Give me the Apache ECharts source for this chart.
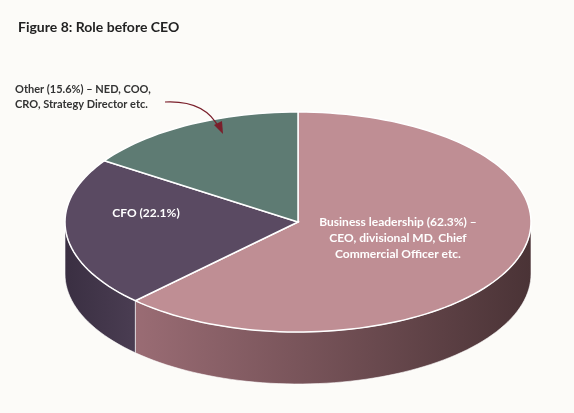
<!DOCTYPE html><html><head><meta charset="utf-8">
<script src="https://cdn.jsdelivr.net/npm/echarts@6/dist/echarts.min.js"></script>
<style>html,body{margin:0;background:#fcfbf8}#c{width:574px;height:413px}</style></head><body><div id="c"></div>
<script>
var categories=['Business leadership','CFO','Other'];
var values=[62.3,22.1,15.6];
var topColors=['#bf8e94','#5a4a62','#5e7b73'];
var sideColors=[['#9a6c74','#4a3336'],['#4a3d52','#3a2f42'],['#4a625c','#3a4e48']];
var total=values.reduce(function(a,b){return a+b},0);
var starts=[],acc=0;values.forEach(function(v){starts.push(acc/total*360);acc+=v;});
var cx=298,cy=222,rx=233,ry=110,depth=52;
function pt(t,dy){var r=t*Math.PI/180;return [cx+rx*Math.sin(r),cy-ry*Math.cos(r)+(dy||0)];}
function arc(a,b,dy){var p=[],n=Math.max(2,Math.ceil((b-a)/2));for(var i=0;i<=n;i++)p.push(pt(a+(b-a)*i/n,dy));return p;}
var chart=echarts.init(document.getElementById('c'));
chart.setOption({
 backgroundColor:'#fcfbf8',
 xAxis:{show:false,min:0,max:1},yAxis:{show:false,min:0,max:1},
 grid:{left:0,right:0,top:0,bottom:0},
 series:[{type:'custom',coordinateSystem:'none',z:1,data:values.map(function(v,i){return [i,v]}),
 renderItem:function(params,api){
  var i=params.dataIndex,a=starts[i],b=a+values[i]/total*360,ch=[];
  var wa=Math.max(a,90),wb=Math.min(b,270);
  if(wb>wa){var top=arc(wa,wb,0),bot=arc(wa,wb,depth).reverse();
   ch.push({type:'polygon',shape:{points:top.concat(bot)},style:{fill:new echarts.graphic.LinearGradient(wb>250?1:0,0,wb>250?0:1,0,[{offset:0,color:sideColors[i][0]},{offset:1,color:sideColors[i][1]}]),stroke:'#fff',lineWidth:0.6}});}
  var pts=[[cx,cy]].concat(arc(a,b,0));
  ch.push({type:'polygon',shape:{points:pts},style:{fill:topColors[i],stroke:'#fff',lineWidth:1.5}});
  return {type:'group',children:ch};
 }}],
 graphic:{elements:[
  {type:'text',z:100,left:18,top:20,style:{text:'Figure 8: Role before CEO',font:'bold 14px Lato',fill:'#222'}},
  {type:'text',z:100,left:15,top:82,style:{text:'Other (15.6%) – NED, COO,\nCRO, Strategy Director etc.',font:'bold 11px Lato',fill:'#333',lineHeight:15}},
  {type:'bezierCurve',z:100,shape:{x1:165,y1:102,x2:219,y2:128,cpx1:205,cpy1:100},style:{stroke:'#7a1f2b',lineWidth:1.2,fill:null}},
  {type:'polygon',z:100,shape:{points:[[214,125],[223,134],[222,121]]},style:{fill:'#7a1f2b'}},
  {type:'text',z:100,x:146,y:213,style:{text:'CFO (22.1%)',font:'bold 12px Lato',fill:'#fff',align:'center',verticalAlign:'middle'}},
  {type:'text',z:100,x:398,y:238,style:{text:'Business leadership (62.3%) –\nCEO, divisional MD, Chief\nCommercial Officer etc.',font:'bold 12px Lato',fill:'#fff',align:'center',verticalAlign:'middle',lineHeight:16}}
 ]}
});
</script></body></html>
